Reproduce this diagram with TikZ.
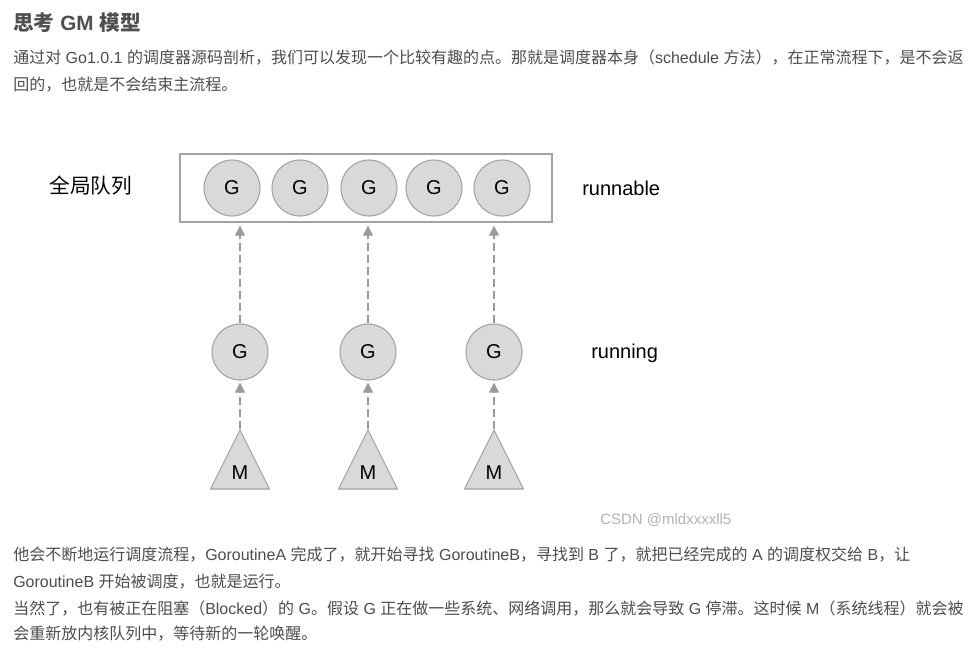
\documentclass[tikz,border=0pt]{standalone}
\usepackage{fontspec}
\setmainfont{Liberation Sans}
\newfontfamily\cjk{Noto Sans CJK SC}
\usetikzlibrary{arrows.meta}
\definecolor{txt}{HTML}{4D4D4D}
\definecolor{ttl}{HTML}{4F4F4F}
\definecolor{gfill}{HTML}{D9D9D9}
\definecolor{gline}{HTML}{A3A3A3}
\definecolor{arrc}{HTML}{9A9A9A}
\definecolor{wm}{HTML}{B3B3B3}
\tikzset{
  body/.style={anchor=west,inner sep=0pt,text=txt,font=\fontsize{12pt}{14pt}\selectfont},
  gnode/.style={circle,draw=gline,fill=gfill,line width=0.8pt,minimum size=42pt,inner sep=0pt,font=\fontsize{15pt}{17pt}\selectfont},
  queuebox/.style={draw=gline,line width=1pt,minimum width=279pt,minimum height=51pt,inner sep=0pt},
  lbl/.style={anchor=west,inner sep=0pt,font=\fontsize{15pt}{17pt}\selectfont},
  tri/.style={draw=gline,fill=gfill,line width=0.8pt,line join=round},
  arr/.style={draw=arrc,line width=0.9pt,dash pattern=on 6pt off 3pt,-{Triangle[width=7.5pt,length=7.5pt]}}
}
\begin{document}
\begin{tikzpicture}[x=0.75pt,y=-0.75pt]
\path[use as bounding box,fill=white] (0,0) rectangle (972,647);
% title and text
\node[anchor=west,inner sep=0pt,text=ttl,font=\fontsize{15.5pt}{18pt}\selectfont\bfseries] (title) at (13,23) {{\cjk 思考} GM {\cjk 模型}};
\node[body] (p1) at (13,58) {{\cjk 通过对} Go1.0.1 {\cjk 的调度器源码剖析，我们可以发现一个比较有趣的点。那就是调度器本身（}schedule {\cjk 方法），在正常流程下，是不会返}};
\node[body] (p2) at (13,85) {\cjk 回的，也就是不会结束主流程。};
\node[body] (p3) at (13,555) {{\cjk 他会不断地运行调度流程，}GoroutineA {\cjk 完成了，就开始寻找} GoroutineB{\cjk ，寻找到} B {\cjk 了，就把已经完成的} A {\cjk 的调度权交给} B{\cjk ，让}};
\node[body] (p4) at (13,582) {GoroutineB {\cjk 开始被调度，也就是运行。}};
\node[body] (p5) at (13,608) {{\cjk 当然了，也有被正在阻塞（}Blocked{\cjk ）的} G{\cjk 。假设} G {\cjk 正在做一些系统、网络调用，那么就会导致} G {\cjk 停滞。这时候} M{\cjk （系统线程）就会被}};
\node[body] (p6) at (13,634) {\cjk 会重新放内核队列中，等待新的一轮唤醒。};
% diagram
\node[inner sep=0pt,font=\cjk\fontsize{15.5pt}{18pt}\selectfont] (gq) at (91,186) {全局队列};
\node[queuebox] (q) at (366,188) {};
\node[gnode] (q1) at (232,188) {G};
\node[gnode] (q2) at (300,188) {G};
\node[gnode] (q3) at (369,188) {G};
\node[gnode] (q4) at (434,188) {G};
\node[gnode] (q5) at (502,188) {G};
\node[lbl] (runnable) at (582,188) {runnable};
\node[gnode] (r1) at (240,352) {G};
\node[gnode] (r2) at (368,352) {G};
\node[gnode] (r3) at (494,352) {G};
\node[lbl] (running) at (591,353) {running};
% M triangles
\foreach \i/\x in {1/240,2/368,3/494}{
  \draw[tri] (\x,430) -- (\x+29.5,489) -- (\x-29.5,489) -- cycle;
  \coordinate (mt\i) at (\x,429);
  \node[inner sep=0pt,font=\fontsize{15pt}{17pt}\selectfont] (m\i) at (\x,473) {M};
}
% arrows
\draw[arr,shorten >=2.25pt] (r1.north) -- (r1.north |- q.south);
\draw[arr,shorten >=2.25pt] (r2.north) -- (r2.north |- q.south);
\draw[arr,shorten >=2.25pt] (r3.north) -- (r3.north |- q.south);
\draw[arr,shorten >=1.5pt] (mt1) -- (r1.south);
\draw[arr,shorten >=1.5pt] (mt2) -- (r2.south);
\draw[arr,shorten >=1.5pt] (mt3) -- (r3.south);
% watermark
\node[anchor=west,inner sep=0pt,text=wm,font=\fontsize{11.25pt}{13pt}\selectfont] (wmk) at (600,520) {CSDN @mldxxxxll5};
\end{tikzpicture}
\end{document}
